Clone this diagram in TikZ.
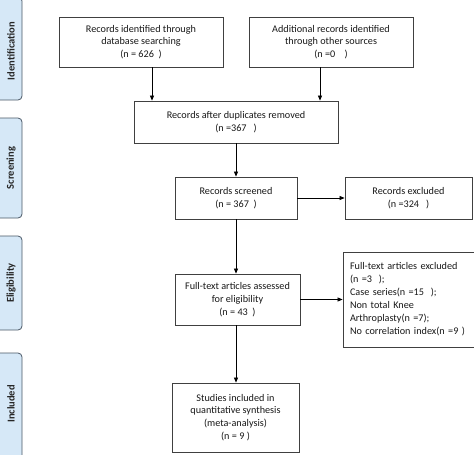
\documentclass[tikz,border=0pt]{standalone}
\usepackage{fontspec}
\setmainfont{Carlito}
\usepackage{xcolor}
\usetikzlibrary{
  arrows.meta,
  calc,
  positioning
}
\definecolor{tabfill}{HTML}{D6E8F7}
\definecolor{tabline}{HTML}{4A5866}

\begin{document}
\begin{tikzpicture}[
  x=1pt, y=-1pt,
  font=\fontsize{10.2}{12.7}\selectfont,
  >={Triangle[length=5pt,width=4pt]},
  stage/.style={draw=black!75, line width=0.8pt, fill=white, align=center,
                inner sep=2pt, minimum width=#1, text=black!90},
  tab/.style={draw=tabline, line width=0.8pt, fill=tabfill, rounded corners=4pt},
  tablabel/.style={rotate=90, font=\fontsize{10.5}{11}\selectfont\bfseries,
                   text=black!85},
  arr/.style={->, line width=0.7pt},
]
  \useasboundingbox (0,0) rectangle (474,455);
  \clip (0,0) rectangle (474,455);

  % side tabs
  \draw[tab] (-10,-3) rectangle (22,100);
  \node[tablabel] (tidn) at (11,51) {Identification};
  \draw[tab] (-10,118) rectangle (22,218);
  \node[tablabel] (tscr) at (11,168) {Screening};
  \draw[tab] (-10,236) rectangle (22,330);
  \node[tablabel] (telg) at (11,283) {Eligibility};
  \draw[tab] (-10,353) rectangle (22,462);
  \node[tablabel] (tinc) at (11,404) {Included};

  % Identification
  \node[stage=164pt, minimum height=50pt] (db) at (141,42)
    {Records identified through\\database searching\\(n = 626\ \ )};
  \node[stage=164pt, minimum height=50pt] (other) at (331,42)
    {Additional records identified\\through other sources\\(n =0\ \ \ \ )};
  \node[stage=204pt, minimum height=42pt] (dup) at (236,122)
    {Records after duplicates removed\\(n =367\ \ \ )};

  % Screening
  \node[stage=122pt, minimum height=42pt] (scr) at (236,198)
    {Records screened\\(n = 367\ \ )};
  \node[stage=127pt, minimum height=42pt] (exc) at (408.5,198)
    {Records excluded\\(n =324\ \ \ )};

  % Eligibility
  \node[stage=125pt, minimum height=51pt] (full) at (237.5,299.5)
    {Full-text articles assessed\\for eligibility\\(n = 43\ \ )};
  \node[stage=131pt, minimum height=95pt, align=left, text width=117pt,
        inner sep=7pt, font=\fontsize{10.2}{13}\selectfont] (fexc) at (408.5,299.5)
    {Full-text articles excluded\\(n =3\ \ );\\Case series(n =15\ \ );\\
     Non total Knee\\Arthroplasty(n =7);\\No correlation index(n =9 )};

  % Included
  \node[stage=127pt, minimum height=69pt] (incl) at (235.5,417.5)
    {Studies included in\\quantitative synthesis\\(meta-analysis)\\(n = 9 )};

  % arrows
  \draw[arr] ([xshift=11pt]db.south) -- ([xshift=11pt]db.south |- dup.north);
  \draw[arr] ([xshift=-11pt]other.south) -- ([xshift=-11pt]other.south |- dup.north);
  \draw[arr] (dup) -- (scr);
  \draw[arr] (scr) -- (exc);
  \draw[arr] (scr) -- (scr |- full.north);
  \draw[arr] (full) -- (fexc);
  \draw[arr] (full.south -| scr) -- (scr |- incl.north);
\end{tikzpicture}
\end{document}
